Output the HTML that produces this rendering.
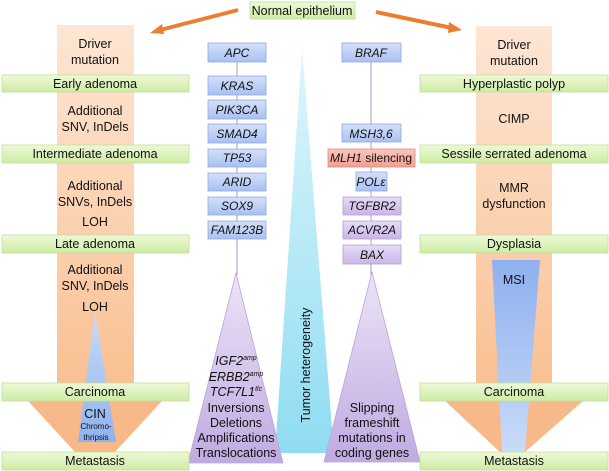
<!DOCTYPE html>
<html><head><meta charset="utf-8"><style>
html,body{margin:0;padding:0;background:#fff;}
svg{display:block;font-family:"Liberation Sans","DejaVu Sans",sans-serif;}
</style></head><body>
<svg width="609" height="471" viewBox="0 0 609 471" xmlns="http://www.w3.org/2000/svg">
<defs>
<linearGradient id="g" x1="0" y1="0" x2="0" y2="1"><stop offset="0" stop-color="#eef9d8"/><stop offset="1" stop-color="#cdeca3"/></linearGradient>
<linearGradient id="o" x1="0" y1="0" x2="0" y2="1"><stop offset="0" stop-color="#fde6d4"/><stop offset="1" stop-color="#f9c093"/></linearGradient>
<linearGradient id="b" x1="0" y1="0" x2="0" y2="1"><stop offset="0" stop-color="#d5e1fa"/><stop offset="1" stop-color="#a9c0f2"/></linearGradient>
<linearGradient id="p" x1="0" y1="0" x2="0" y2="1"><stop offset="0" stop-color="#e6dcf6"/><stop offset="1" stop-color="#c9b6e6"/></linearGradient>
<linearGradient id="r" x1="0" y1="0" x2="0" y2="1"><stop offset="0" stop-color="#fbc6bd"/><stop offset="1" stop-color="#f29e90"/></linearGradient>
<linearGradient id="pt" x1="0" y1="0" x2="0" y2="1"><stop offset="0" stop-color="#ece4f8"/><stop offset="1" stop-color="#c0aae0"/></linearGradient>
<linearGradient id="ct" x1="0" y1="0" x2="0" y2="1"><stop offset="0" stop-color="#e0f6fc"/><stop offset="1" stop-color="#8fdcf2"/></linearGradient>
<linearGradient id="bt" x1="0" y1="0" x2="0" y2="1"><stop offset="0" stop-color="#c9dcf8"/><stop offset="1" stop-color="#8fb2ef"/></linearGradient>
<linearGradient id="bt2" x1="0" y1="0" x2="0" y2="1"><stop offset="0" stop-color="#8fb0ef"/><stop offset="1" stop-color="#c8dbf8"/></linearGradient>
</defs>

<!-- arrows -->
<line x1="238" y1="10" x2="160" y2="30" stroke="#ed7d31" stroke-width="4"/>
<polygon points="150,33 162,24 164,34" fill="#ed7d31"/>
<line x1="376" y1="12" x2="452" y2="28" stroke="#ed7d31" stroke-width="4"/>
<polygon points="462,30 449,22 448,33" fill="#ed7d31"/>

<!-- left column -->
<rect x="57" y="25" width="77" height="360" fill="url(#o)"/>
<polygon points="28,401 162,401 115,452 75,452" fill="#f7b98a"/>
<polygon points="95,312 116,442 78,442" fill="url(#bt)"/>
<!-- right column -->
<rect x="476" y="26" width="76" height="359" fill="url(#o)"/>
<polygon points="445,401 583,401 525,452 500,452" fill="#f7b98a"/>
<polygon points="492,260 540,260 525,452 502,452" fill="url(#bt2)"/>

<!-- cyan triangle -->
<polygon points="302,48 334,453 275,453" fill="url(#ct)"/>
<text transform="translate(310,365) rotate(-90)" text-anchor="middle" font-size="12.5" fill="#111">Tumor heterogeneity</text>

<!-- connector lines -->
<line x1="237" y1="62" x2="237" y2="275" stroke="#a899cc" stroke-width="1"/>
<line x1="371" y1="62" x2="371" y2="275" stroke="#a899cc" stroke-width="1"/>

<!-- purple triangles -->
<polygon points="236,273 283,463 188,463" fill="url(#pt)" stroke="#b8a6dc" stroke-width="0.8"/>
<polygon points="372,272 420,462 324,462" fill="url(#pt)" stroke="#b8a6dc" stroke-width="0.8"/>

<!-- green bars -->
<g fill="url(#g)" stroke="#c2e09a" stroke-width="0.8">
<rect x="250" y="2" width="105" height="17"/>
<rect x="2" y="75" width="187" height="17"/>
<rect x="2" y="145" width="187" height="18"/>
<rect x="2" y="235" width="187" height="18"/>
<rect x="2" y="383" width="187" height="18"/>
<rect x="2" y="452" width="187" height="18"/>
<rect x="420" y="75" width="188" height="17"/>
<rect x="420" y="145" width="188" height="18"/>
<rect x="420" y="235" width="188" height="18"/>
<rect x="420" y="383" width="188" height="18"/>
<rect x="420" y="452" width="188" height="18"/>
</g>
<g font-size="12.5" fill="#111" text-anchor="middle">
<text x="302" y="15">Normal epithelium</text>
<text x="95" y="88">Early adenoma</text>
<text x="95" y="158">Intermediate adenoma</text>
<text x="95" y="248">Late adenoma</text>
<text x="95" y="396">Carcinoma</text>
<text x="95" y="465">Metastasis</text>
<text x="514" y="88">Hyperplastic polyp</text>
<text x="514" y="158">Sessile serrated adenoma</text>
<text x="514" y="248">Dysplasia</text>
<text x="514" y="396">Carcinoma</text>
<text x="514" y="465">Metastasis</text>

<text x="95" y="48">Driver</text><text x="95" y="64">mutation</text>
<text x="95" y="115">Additional</text><text x="95" y="131">SNV, InDels</text>
<text x="95" y="190">Additional</text><text x="95" y="206">SNVs, InDels</text>
<text x="95" y="226">LOH</text>
<text x="95" y="274">Additional</text><text x="95" y="290">SNV, InDels</text>
<text x="95" y="311">LOH</text>
<text x="95" y="418">CIN</text>
<text x="96" y="429" font-size="8">Chromo-</text><text x="96" y="440" font-size="8">thripsis</text>

<text x="514" y="49">Driver</text><text x="514" y="65">mutation</text>
<text x="514" y="123">CIMP</text>
<text x="514" y="192">MMR</text><text x="514" y="208">dysfunction</text>
<text x="514" y="284">MSI</text>

<text x="236" y="412">Inversions</text>
<text x="236" y="427">Deletions</text>
<text x="236" y="442">Amplifications</text>
<text x="236" y="457">Translocations</text>
<text x="236" y="365" font-style="italic">IGF2<tspan font-size="7" dy="-5">amp</tspan></text>
<text x="236" y="381" font-style="italic">ERBB2<tspan font-size="7" dy="-5">amp</tspan></text>
<text x="236" y="396" font-style="italic">TCF7L1<tspan font-size="7" dy="-5">tlc</tspan></text>

<text x="372" y="412">Slipping</text>
<text x="372" y="427">frameshift</text>
<text x="372" y="442">mutations in</text>
<text x="372" y="457">coding genes</text>
</g>

<!-- gene boxes -->
<g stroke="#8ea8e0" stroke-width="0.8" fill="url(#b)">
<rect x="208" y="43" width="58" height="19"/>
<rect x="208" y="76" width="58" height="19"/>
<rect x="208" y="100" width="58" height="19"/>
<rect x="208" y="124" width="58" height="19"/>
<rect x="208" y="149" width="58" height="18"/>
<rect x="208" y="173" width="58" height="18"/>
<rect x="208" y="197" width="58" height="18"/>
<rect x="208" y="221" width="58" height="18"/>
<rect x="342" y="43" width="59" height="19"/>
<rect x="342" y="124" width="59" height="18"/>
<rect x="356" y="172" width="31" height="19"/>
</g>
<rect x="328" y="149" width="87" height="18" fill="url(#r)" stroke="#e08a7c" stroke-width="0.8"/>
<g stroke="#b4a2d8" stroke-width="0.8" fill="url(#p)">
<rect x="343" y="197" width="58" height="18"/>
<rect x="343" y="221" width="58" height="18"/>
<rect x="343" y="245" width="58" height="19"/>
</g>
<g font-size="12" fill="#111" text-anchor="middle" font-style="italic">
<text x="237" y="57">APC</text>
<text x="237" y="90">KRAS</text>
<text x="237" y="114">PIK3CA</text>
<text x="237" y="138">SMAD4</text>
<text x="237" y="162">TP53</text>
<text x="237" y="186">ARID</text>
<text x="237" y="210">SOX9</text>
<text x="237" y="234">FAM123B</text>
<text x="371" y="57">BRAF</text>
<text x="371" y="138">MSH3,6</text>
<text x="371" y="162">MLH1<tspan font-style="normal"> silencing</tspan></text>
<text x="371" y="186">POLε</text>
<text x="372" y="210">TGFBR2</text>
<text x="372" y="234">ACVR2A</text>
<text x="372" y="259">BAX</text>
</g>
</svg>
</body></html>
